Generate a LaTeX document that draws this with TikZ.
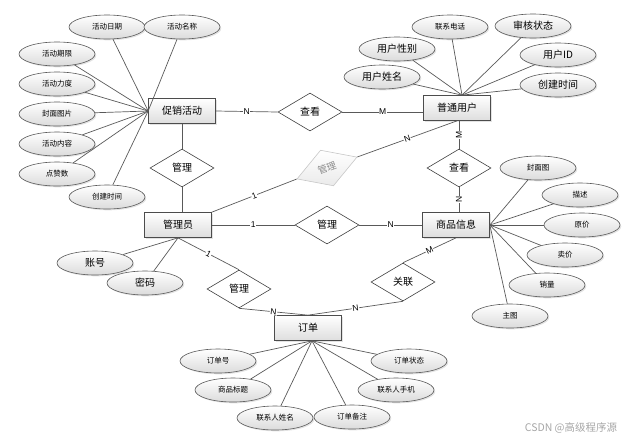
\documentclass[tikz,border=0pt]{standalone}
\usepackage{fontspec}
\setmainfont{Noto Sans CJK SC}
\newfontfamily\latinf{Liberation Sans}
\usetikzlibrary{shapes.geometric,shadows}
\begin{document}
\begin{tikzpicture}[x=1pt,y=-1pt,
  shd/.style={drop shadow={opacity=0.22,shadow xshift=1.3pt,shadow yshift=-1.3pt}},
  ent/.style={draw=black!70, line width=0.7pt, top color=white, bottom color=black!13,
    minimum width=67pt, minimum height=25pt, inner sep=0pt, shd,
    font=\fontsize{10}{10}\selectfont},
  rel/.style={diamond, draw=black!75, line width=0.6pt, fill=white,
    minimum width=64pt, minimum height=38pt, inner sep=0pt,
    font=\fontsize{10}{10}\selectfont},
  attr/.style={ellipse, draw=black!65, line width=0.6pt, top color=white, bottom color=black!14,
    minimum width=76pt, minimum height=24pt, inner sep=0pt, shd,
    font=\fontsize{7.5}{7.5}\selectfont},
  attrL/.style={attr, font=\fontsize{10}{10}\selectfont},
  ln/.style={draw=black!65, line width=0.7pt},
  lab/.style={fill=white, inner sep=0.6pt, font=\latinf\fontsize{8.5}{8.5}\selectfont}
]
\useasboundingbox (0,0) rectangle (628,440);

% entities
\node[ent] (promo) at (182,111) {促销活动};
\node[ent] (user)  at (457,108) {普通用户};
\node[ent] (admin) at (178,225) {管理员};
\node[ent] (goods) at (456,225) {商品信息};
\node[ent] (order) at (308,328) {订单};

% relationships
\node[rel] (r1) at (310,112) {查看};
\node[rel] (r2) at (182,168) {管理};
\node[rel, draw=black!22, top color=white, bottom color=black!8, text=black!45, rotate=20, font=\fontsize{9.5}{9.5}\selectfont] (r3) at (327,168) {管理};
\node[rel] (r4) at (459,168) {查看};
\node[rel] (r5) at (327,225) {管理};
\node[rel] (r6) at (239,289) {管理};
\node[rel] (r7) at (403,282) {关联};

% connectors
\draw[ln] (promo.east) -- node[lab]{N} (r1.west);
\draw[ln] (r1.east) -- node[lab]{M} (r1.east -| user.west);
\draw[ln] (promo.south) -- (r2.north);
\draw[ln] (r2.south) -- (r2.south |- admin.north);
\draw[ln] (admin.north east) -- node[lab, sloped]{1} (r3.west);
\draw[ln] (r3.east) -- node[lab, sloped]{N} (user.south);
\draw[ln] (r4.north |- user.south) -- node[lab, rotate=90]{M} (r4.north);
\draw[ln] (r4.south) -- node[lab, rotate=90]{N} (r4.south |- goods.north);
\draw[ln] (admin.east) -- node[lab]{1} (r5.west);
\draw[ln] (r5.east) -- node[lab]{N} (goods.west);
\draw[ln] (admin.south) -- node[lab, sloped]{1} (r6.north);
\draw[ln] (r6.south) -- node[lab, sloped]{N} (order.north);
\draw[ln] (goods.south) -- node[lab, sloped]{M} (r7.north);
\draw[ln] (r7.south) -- node[lab, sloped]{N} (order.north);

% attributes of 促销活动
\node[attr] (p1) at (107,27)  {活动日期};
\node[attr] (p2) at (182,27)  {活动名称};
\node[attr] (p3) at (57,54)   {活动期限};
\node[attr] (p4) at (57,84)   {活动力度};
\node[attr] (p5) at (57,114)  {封面图片};
\node[attr] (p6) at (57,144)  {活动内容};
\node[attr] (p7) at (57,174)  {点赞数};
\node[attr] (p8) at (107,197) {创建时间};
\foreach \n in {p1,p2,p3,p4,p5,p6,p7,p8} \draw[ln] (\n) -- (promo.west);

% attributes of 普通用户
\coordinate (uc) at ([xshift=5pt]user.north);
\node[attr]  (u1) at (450,27) {联系电话};
\node[attrL] (u2) at (533,26) {审核状态};
\node[attrL] (u3) at (397,49) {用户性别};
\node[attrL] (u4) at (558,55) {用户ID};
\node[attrL] (u5) at (382,77) {用户姓名};
\node[attrL] (u6) at (558,85) {创建时间};
\foreach \n in {u1,u2,u3,u4,u5,u6} \draw[ln] (\n) -- (uc);

% attributes of 商品信息
\node[attr] (g1) at (538,168) {封面图};
\node[attr] (g2) at (580,195) {描述};
\node[attr] (g3) at (582,225) {原价};
\node[attr] (g4) at (565,255) {卖价};
\node[attr] (g5) at (547,285) {销量};
\node[attr] (g6) at (510,316) {主图};
\foreach \n in {g1,g2,g3,g4,g5,g6} \draw[ln] (\n) -- (goods.east);

% attributes of 管理员
\node[attrL] (m1) at (95,263)  {账号};
\node[attrL] (m2) at (145,283) {密码};
\foreach \n in {m1,m2} \draw[ln] (\n) -- (admin.south);

% attributes of 订单
\coordinate (oc) at ([xshift=4pt]order.south);
\node[attr] (o1) at (218,361) {订单号};
\node[attr] (o2) at (233,390) {商品标题};
\node[attr] (o3) at (275,418) {联系人姓名};
\node[attr] (o4) at (352,417) {订单备注};
\node[attr] (o5) at (396,390) {联系人手机};
\node[attr] (o6) at (409,361) {订单状态};
\foreach \n in {o1,o2,o3,o4,o5,o6} \draw[ln] (\n) -- (oc);

% watermark
\node[text=black!35, font=\fontsize{10.5}{10.5}\selectfont, inner sep=0pt] (wm) at (571,428) {CSDN @高级程序源};
\end{tikzpicture}
\end{document}
